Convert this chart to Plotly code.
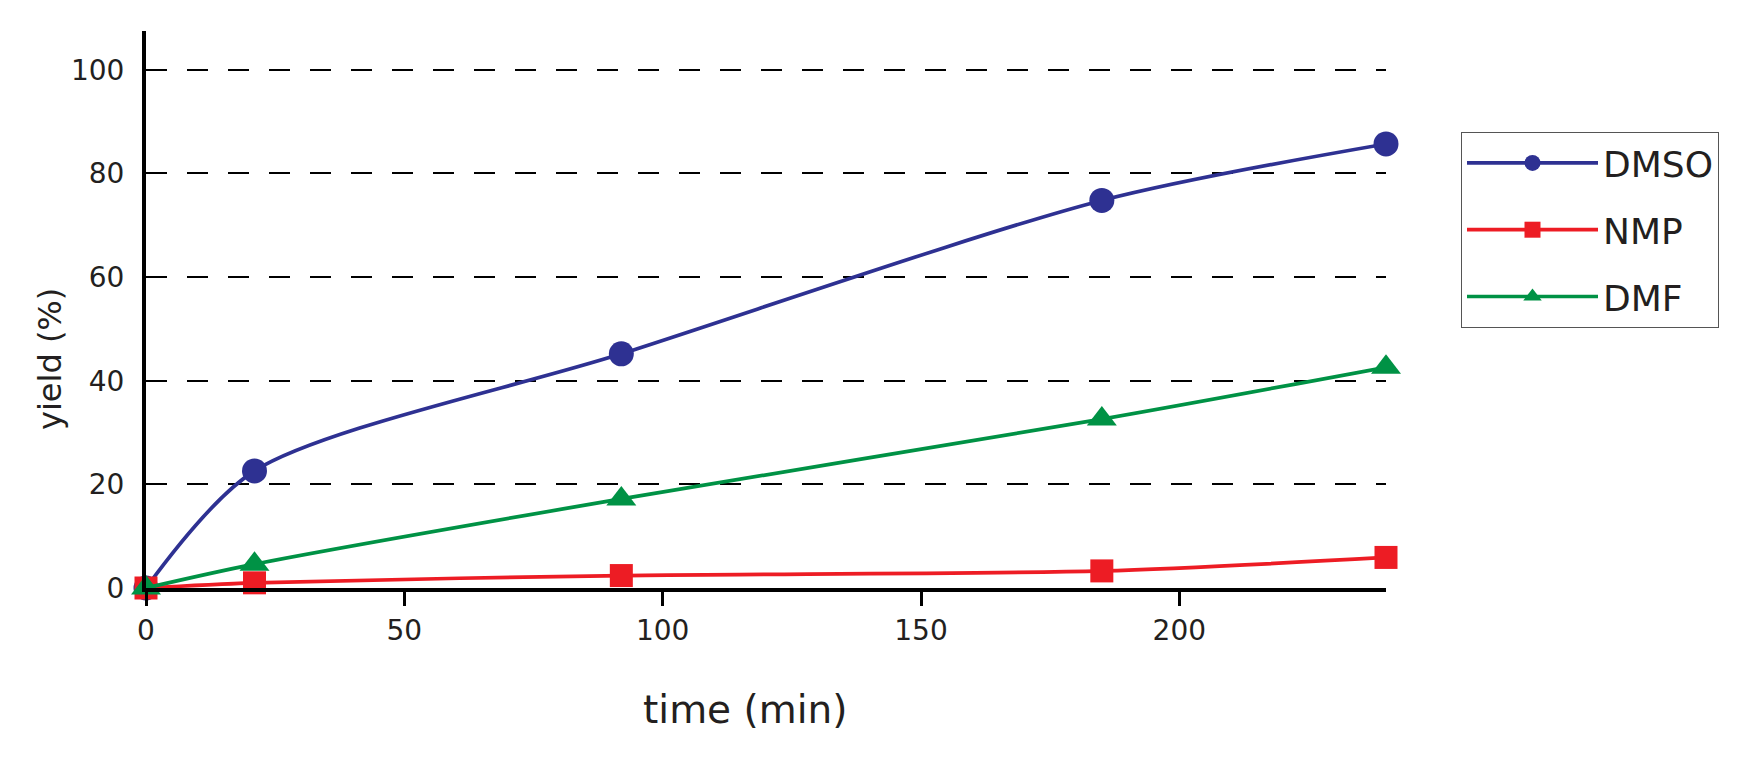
import plotly.graph_objects as go

time_min = [0, 21, 92, 185, 240]
dmso = [0, 22.6, 45.2, 74.8, 85.7]
nmp = [0, 1.0, 2.4, 3.3, 5.9]
dmf = [0, 4.6, 17.2, 32.6, 42.6]

x_ticks = [0, 50, 100, 150, 200]
y_ticks = [0, 20, 40, 60, 80, 100]

FONT = "DejaVu Sans"
TXT = "#231F20"

series = [
    ("DMSO", dmso, "#2E3192", "circle", 25),
    ("NMP", nmp, "#ED1C24", "square", 23),
    ("DMF", dmf, "#009245", "triangle-up", 26),
]

fig = go.Figure()
for i, (name, vals, col, sym, sz) in enumerate(series):
    fig.add_trace(go.Scatter(
        x=time_min, y=vals, name=name, mode="lines+markers",
        line=dict(color=col, width=3.7, shape="spline", smoothing=0.8),
        marker=dict(color=col, symbol=sym, size=sz),
        cliponaxis=False, legendgroup=f"g{i}",
    ))

fig.update_layout(
    width=1760, height=763,
    margin=dict(l=146, r=374, t=31, b=175),
    paper_bgcolor="white", plot_bgcolor="white",
    font=dict(family=FONT, color=TXT),
    showlegend=True,
    legend=dict(
        x=(1461 - 146) / 1240, y=(588 - 132) / 557, xanchor="left", yanchor="top",
        bordercolor="#555555", borderwidth=1,
        font=dict(size=36, family=FONT, color=TXT),
        tracegroupgap=17, itemwidth=131,
    ),
    annotations=[
        dict(text="yield (%)", textangle=-90, xref="paper", yref="paper",
             x=(50 - 146) / 1240, y=(588 - 359) / 557, xanchor="center", yanchor="middle",
             showarrow=False, font=dict(size=32, family=FONT, color=TXT)),
        dict(text="time (min)", xref="paper", yref="paper",
             x=(745 - 146) / 1240, y=(588 - 710) / 557, xanchor="center", yanchor="middle",
             showarrow=False, font=dict(size=39, family=FONT, color=TXT)),
    ],
)
fig.update_xaxes(
    range=[0, 240], tickvals=x_ticks, ticktext=[str(v) for v in x_ticks],
    showline=True, linecolor="black", linewidth=4,
    ticks="outside", ticklen=14, tickwidth=3, tickcolor="black",
    tickfont=dict(size=28, family=FONT, color=TXT),
    showgrid=False, zeroline=False,
)
fig.update_yaxes(
    range=[0, 107.5], tickvals=y_ticks, ticktext=[str(v) for v in y_ticks],
    showline=True, linecolor="black", linewidth=4,
    ticks="", ticklabelstandoff=12,
    tickfont=dict(size=28, family=FONT, color=TXT),
    showgrid=True, gridcolor="black", gridwidth=2, griddash="21px,20px",
    zeroline=False,
)
fig.write_html("out.html")
